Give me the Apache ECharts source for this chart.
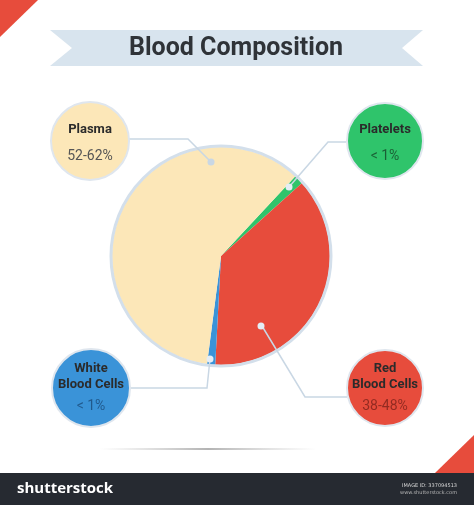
<!DOCTYPE html>
<html><head><meta charset="utf-8">
<script src="https://cdn.jsdelivr.net/npm/echarts@6/dist/echarts.min.js"></script>
<style>html,body{margin:0;padding:0;background:#fff}#c{width:474px;height:505px}</style>
</head><body><div id="c"></div>
<script>
// Data
var categories = ['Platelets', 'Red Blood Cells', 'White Blood Cells', 'Plasma'];
var values = [1.4, 37.5, 1.2, 59.9];
var colors = ['#2fc46b', '#e74c3c', '#3a93d8', '#fce7b8'];
var bubbleNames = ['Platelets', 'Red\nBlood Cells', 'White\nBlood Cells', 'Plasma'];
var bubbleValues = ['< 1%', '38-48%', '< 1%', '52-62%'];
var titleText = 'Blood Composition';

var chart = echarts.init(document.getElementById('c'), null, {renderer: 'canvas'});

// layout for bubbles (decoration)
var bubbles = [
  {cx: 385, cy: 141, r: 38, nameY: 130, valY: 156, valColor: 'rgba(20,60,35,0.75)', line: [[346,142],[328,142],[289,187]], dot: [289,187]},
  {cx: 385, cy: 388, r: 38, nameY: 377, valY: 406, valColor: 'rgba(90,20,15,0.6)', line: [[347,397],[305,397],[262,326]], dot: [261,326]},
  {cx: 91, cy: 388, r: 39, nameY: 377, valY: 406, valColor: 'rgba(15,50,90,0.6)', line: [[130,388],[207,388],[210,359]], dot: [210,359]},
  {cx: 90, cy: 141, r: 39, nameY: 130, valY: 156, valColor: '#555', line: [[129,139],[188,139],[211,162]], dot: [211,162]}
];

var graphics = [];
// corners
graphics.push({type:'polygon', shape:{points:[[0,0],[38,0],[0,37]]}, style:{fill:'#e74c3c'}, z:1});
graphics.push({type:'polygon', shape:{points:[[435,473],[474,473],[474,435]]}, style:{fill:'#e74c3c'}, z:1});
// ribbon
graphics.push({type:'polygon', shape:{points:[[50,30],[423,30],[402,48],[423,66],[50,66],[72,48]]}, style:{fill:'#d8e4ee'}, z:1});
graphics.push({type:'text', x:236, y:49, style:{text:titleText, fill:'#2f3338', font:'bold 25px Roboto', textAlign:'center', textVerticalAlign:'middle'}, z:2});
// shadow under pie
graphics.push({type:'rect', shape:{x:100, y:448, width:216, height:2}, style:{fill:new echarts.graphic.LinearGradient(0,0,1,0,[{offset:0,color:'rgba(180,180,180,0)'},{offset:0.5,color:'rgba(160,160,160,0.8)'},{offset:1,color:'rgba(180,180,180,0)'}])}, z:1});
// pie ring
graphics.push({type:'circle', shape:{cx:221, cy:256, r:110}, style:{fill:null, stroke:'#d3dfeb', lineWidth:3}, z:10});

bubbles.forEach(function(b, i){
  graphics.push({type:'polyline', shape:{points:b.line}, style:{stroke:'#c9d7e4', lineWidth:1.5, fill:null}, z:11});
  graphics.push({type:'circle', shape:{cx:b.dot[0], cy:b.dot[1], r:3.5}, style:{fill: i===3 ? '#c9d7e4' : '#e4edf5'}, z:12});
  graphics.push({type:'circle', shape:{cx:b.cx, cy:b.cy, r:b.r}, style:{fill:colors[i], stroke:'#dfe6ee', lineWidth:2}, z:12});
  graphics.push({type:'text', x:b.cx, y:b.nameY, style:{text:bubbleNames[i], fill:'#2b2b2b', font:'bold 13px Roboto', textAlign:'center', textVerticalAlign:'middle', lineHeight:16}, z:13});
  graphics.push({type:'text', x:b.cx, y:b.valY, style:{text:bubbleValues[i], fill:b.valColor, font:'14px Roboto', textAlign:'center', textVerticalAlign:'middle'}, z:13});
});
// footer
graphics.push({type:'rect', shape:{x:0, y:473, width:474, height:32}, style:{fill:'#262a31'}, z:20});
graphics.push({type:'text', x:17, y:489, style:{text:'shutterstock', fill:'#ffffff', font:'bold 15px "Open Sans"', textVerticalAlign:'middle'}, z:21});
graphics.push({type:'text', x:457, y:486, style:{text:'IMAGE ID: 337094513', fill:'#d8d8d8', font:'5px "DejaVu Sans"', textAlign:'right', textVerticalAlign:'middle'}, z:21});
graphics.push({type:'text', x:457, y:493, style:{text:'www.shutterstock.com', fill:'#b8b8b8', font:'5px "DejaVu Sans"', textAlign:'right', textVerticalAlign:'middle'}, z:21});

chart.setOption({
  backgroundColor:'#ffffff',
  animation:false,
  series:[{
    type:'pie',
    center:[221,256],
    radius:[0,109],
    startAngle:47,
    clockwise:true,
    label:{show:false},
    labelLine:{show:false},
    emphasis:{disabled:true},
    data: categories.map(function(c,i){return {name:c, value:values[i], itemStyle:{color:colors[i]}};})
  }],
  graphic: graphics
});
</script></body></html>
